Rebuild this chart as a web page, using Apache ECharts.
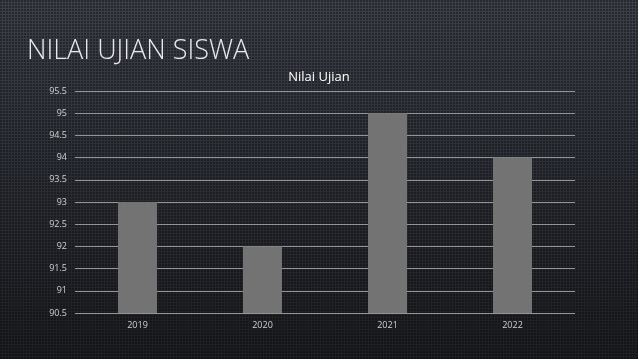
<!DOCTYPE html>
<html><head><meta charset="utf-8">
<script src="https://cdn.jsdelivr.net/npm/echarts@6/dist/echarts.min.js"></script>
<style>
html,body{margin:0;padding:0;}
#bg{position:absolute;left:0;top:0;width:638px;height:359px;
background:
 radial-gradient(circle at 1px 1px, rgba(0,0,0,0.35) 0.9px, transparent 1.2px) 0 0/3px 3px,
 linear-gradient(180deg,#3c3f48 0%,#2d2f36 45%,#1c1d20 100%);}
#c{position:absolute;left:0;top:0;width:638px;height:359px;}
</style></head><body>
<div id="bg"></div><div id="c"></div>
<script>
const categories = ['2019','2020','2021','2022'];
const values = [93, 92, 95, 94];
const yMin = 90.5, yMax = 95.5, yStep = 0.5;
const chart = echarts.init(document.getElementById('c'), null, {renderer:'canvas'});
chart.setOption({
  backgroundColor: 'transparent',
  title: [
    {text:'NILAI UJIAN SISWA', left:22, top:33, textStyle:{color:'#e8e8e8', fontSize:27, fontWeight:300, fontFamily:'Open Sans'}},
    {text:'Nilai Ujian', left:'center', top:66, textStyle:{color:'#ffffff', fontSize:13, fontWeight:'normal', fontFamily:'Open Sans'}}
  ],
  grid:{left:75, right:63, top:91, bottom:46},
  xAxis:{type:'category', data:categories,
    axisLine:{show:false}, axisTick:{show:false},
    axisLabel:{color:'#d0d0d0', fontSize:9, margin:8, fontFamily:'Open Sans'}},
  yAxis:{type:'value', min:yMin, max:yMax, interval:yStep,
    axisLine:{show:false}, axisTick:{show:false},
    axisLabel:{color:'#d0d0d0', fontSize:9, margin:8, fontFamily:'Open Sans'},
    splitLine:{lineStyle:{color:'#949494', width:1}}},
  series:[{type:'bar', data:values, barWidth:39, itemStyle:{color:'#737373'}, silent:true, animation:false}]
});
</script></body></html>
